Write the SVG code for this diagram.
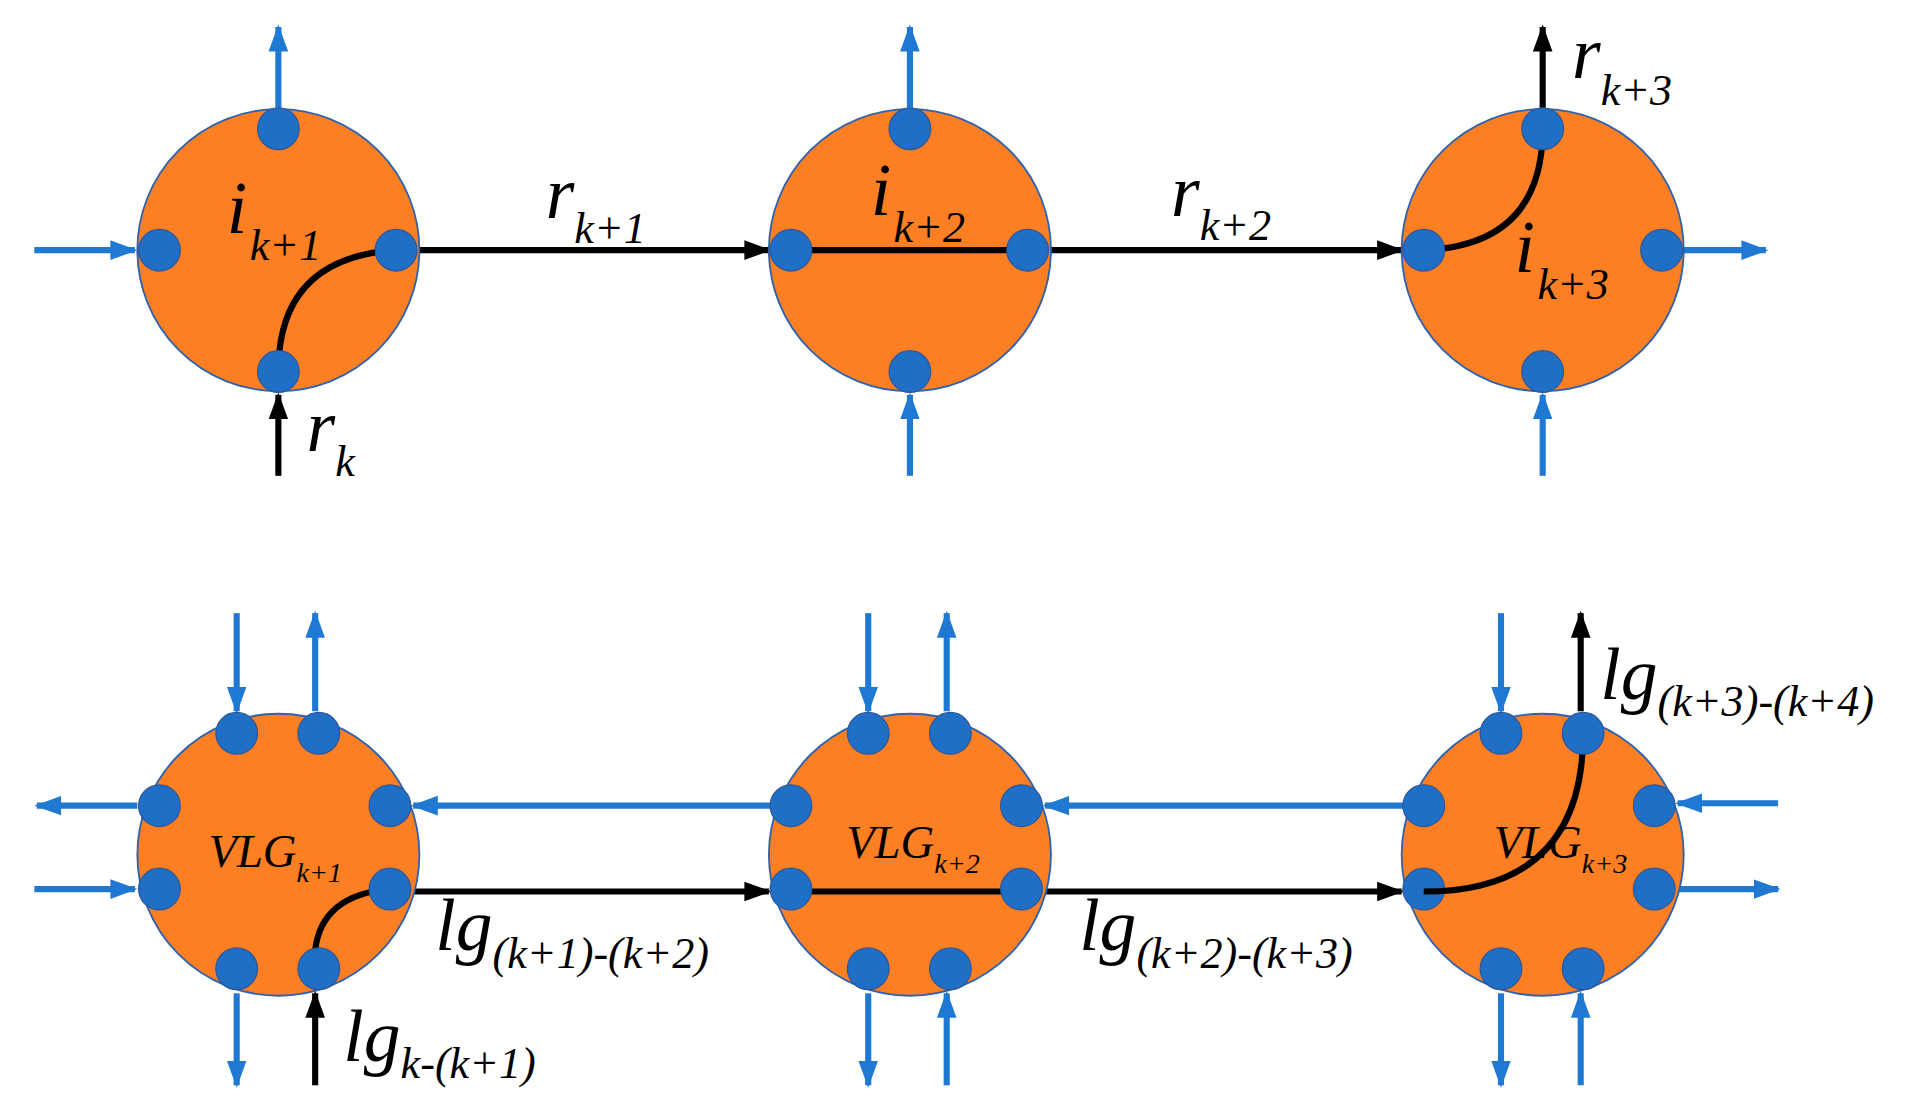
<svg xmlns="http://www.w3.org/2000/svg" width="1913" height="1111" viewBox="0 0 1913 1111">
<style>
.c{fill:#fd7f23;stroke:#2f62ae;stroke-width:1.5}
.d{fill:#1f6fc6;stroke:#2f5597;stroke-width:1}
.b{stroke:#1f78d1;stroke-width:5;fill:none;marker-end:url(#mb)}
.k{stroke:#000;stroke-width:5;fill:none;marker-end:url(#mk)}
.p{stroke:#000;stroke-width:5;fill:none}
text{font-family:"Liberation Serif",serif;fill:#000}
.m{font-style:italic;font-size:60px}
.s{font-size:36px}
.v{font-style:italic;font-size:38px}
.vs{font-size:23px}
</style>
<defs>
<marker id="mb" markerUnits="userSpaceOnUse" markerWidth="24" markerHeight="20" refX="20" refY="10" orient="auto"><path d="M0,2 L22,10 L0,18 Z" fill="#1f78d1"/></marker>
<marker id="mk" markerUnits="userSpaceOnUse" markerWidth="24" markerHeight="20" refX="20" refY="10" orient="auto"><path d="M0,2 L22,10 L0,18 Z" fill="#000"/></marker>
</defs>
<g transform="scale(1.2263)">
<g id="connectors">
<line class="b" x1="227" y1="88" x2="227" y2="22"/>
<line class="b" x1="28" y1="204" x2="110" y2="204"/>
<line class="k" x1="227" y1="388" x2="227" y2="322"/>
<line class="k" x1="341" y1="204" x2="627" y2="204"/>
<line class="b" x1="742" y1="88" x2="742" y2="22"/>
<line class="b" x1="742" y1="388" x2="742" y2="322"/>
<line class="k" x1="856" y1="204" x2="1143" y2="204"/>
<line class="k" x1="1258" y1="88" x2="1258" y2="22"/>
<line class="b" x1="1373" y1="204" x2="1440" y2="204"/>
<line class="b" x1="1258" y1="388" x2="1258" y2="322"/>

<line class="b" x1="193" y1="500" x2="193" y2="580"/>
<line class="b" x1="257" y1="580" x2="257" y2="500"/>
<line class="b" x1="112" y1="657" x2="30" y2="657"/>
<line class="b" x1="28" y1="725" x2="110" y2="725"/>
<line class="b" x1="193" y1="810" x2="193" y2="885"/>
<line class="k" x1="257" y1="885" x2="257" y2="810"/>
<line class="b" x1="630" y1="657" x2="337" y2="657"/>
<line class="k" x1="337" y1="727" x2="627" y2="727"/>
<line class="b" x1="708" y1="500" x2="708" y2="580"/>
<line class="b" x1="772" y1="580" x2="772" y2="500"/>
<line class="b" x1="708" y1="810" x2="708" y2="885"/>
<line class="b" x1="772" y1="885" x2="772" y2="810"/>
<line class="b" x1="1145" y1="657" x2="852" y2="657"/>
<line class="k" x1="852" y1="727" x2="1143" y2="727"/>
<line class="b" x1="1224" y1="500" x2="1224" y2="580"/>
<line class="k" x1="1289" y1="580" x2="1289" y2="500"/>
<line class="b" x1="1450" y1="655" x2="1368" y2="655"/>
<line class="b" x1="1368" y1="725" x2="1450" y2="725"/>
<line class="b" x1="1224" y1="810" x2="1224" y2="885"/>
<line class="b" x1="1289" y1="885" x2="1289" y2="810"/>
</g>
<g id="n1"><circle class="c" cx="227" cy="204" r="115"/>
<path class="p" d="M227,303 Q227,210 323,204"/>
<circle class="d" cx="227" cy="105" r="17"/><circle class="d" cx="227" cy="303" r="17"/><circle class="d" cx="130" cy="204" r="17"/><circle class="d" cx="323" cy="204" r="17"/>
<text x="185" y="190" class="m">i<tspan class="s" dx="2" dy="22"><tspan font-style="italic">k</tspan>+1</tspan></text></g>
<g id="n2"><circle class="c" cx="742" cy="204" r="115"/>
<line class="p" x1="645" y1="204" x2="838" y2="204"/>
<circle class="d" cx="742" cy="105" r="17"/><circle class="d" cx="742" cy="303" r="17"/><circle class="d" cx="645" cy="204" r="17"/><circle class="d" cx="838" cy="204" r="17"/>
<text x="710" y="175" class="m">i<tspan class="s" dx="2" dy="22"><tspan font-style="italic">k</tspan>+2</tspan></text></g>
<g id="n3"><circle class="c" cx="1258" cy="204" r="115"/>
<path class="p" d="M1161,204 Q1258,200 1258,105"/>
<circle class="d" cx="1258" cy="105" r="17"/><circle class="d" cx="1258" cy="303" r="17"/><circle class="d" cx="1161" cy="204" r="17"/><circle class="d" cx="1355" cy="204" r="17"/>
<text x="1235" y="222" class="m">i<tspan class="s" dx="2" dy="22"><tspan font-style="italic">k</tspan>+3</tspan></text></g>
<text x="250" y="368" class="m">r<tspan class="s" dy="20" font-style="italic">k</tspan></text>
<text x="445" y="178" class="m">r<tspan class="s" dy="20"><tspan font-style="italic">k</tspan>+1</tspan></text>
<text x="955" y="176" class="m">r<tspan class="s" dy="20"><tspan font-style="italic">k</tspan>+2</tspan></text>
<text x="1282" y="64" class="m">r<tspan class="s" dy="22"><tspan font-style="italic">k</tspan>+3</tspan></text>

<g id="m1"><circle class="c" cx="227" cy="697" r="115"/>
<path class="p" d="M257,775 Q262,730 318,725"/>
<circle class="d" cx="193" cy="598" r="17"/><circle class="d" cx="260" cy="598" r="17"/><circle class="d" cx="130" cy="657" r="17"/><circle class="d" cx="130" cy="725" r="17"/><circle class="d" cx="318" cy="657" r="17"/><circle class="d" cx="318" cy="725" r="17"/><circle class="d" cx="193" cy="790" r="17"/><circle class="d" cx="260" cy="790" r="17"/>
<text x="170" y="707" class="v">VLG<tspan class="vs" dy="12"><tspan font-style="italic">k</tspan>+1</tspan></text></g>
<g id="m2"><circle class="c" cx="742" cy="697" r="115"/>
<line class="p" x1="645" y1="727" x2="833" y2="727"/>
<circle class="d" cx="708" cy="598" r="17"/><circle class="d" cx="775" cy="598" r="17"/><circle class="d" cx="645" cy="657" r="17"/><circle class="d" cx="645" cy="725" r="17"/><circle class="d" cx="833" cy="657" r="17"/><circle class="d" cx="833" cy="725" r="17"/><circle class="d" cx="708" cy="790" r="17"/><circle class="d" cx="775" cy="790" r="17"/>
<text x="690" y="700" class="v">VLG<tspan class="vs" dy="12"><tspan font-style="italic">k</tspan>+2</tspan></text></g>
<g id="m3"><circle class="c" cx="1258" cy="697" r="115"/>
<circle class="d" cx="1224" cy="598" r="17"/><circle class="d" cx="1161" cy="657" r="17"/><circle class="d" cx="1161" cy="725" r="17"/><circle class="d" cx="1349" cy="657" r="17"/><circle class="d" cx="1349" cy="725" r="17"/><circle class="d" cx="1224" cy="790" r="17"/><circle class="d" cx="1291" cy="790" r="17"/>
<text x="1218" y="700" class="v">VLG<tspan class="vs" dy="12"><tspan font-style="italic">k</tspan>+3</tspan></text>
<path class="p" d="M1161,727 Q1291,727 1291,598"/>
<circle class="d" cx="1291" cy="598" r="17"/></g>
<text x="355" y="775" class="m">lg<tspan class="s" dy="14">(<tspan font-style="italic">k</tspan>+1)-(<tspan font-style="italic">k</tspan>+2)</tspan></text>
<text x="880" y="775" class="m">lg<tspan class="s" dy="14">(<tspan font-style="italic">k</tspan>+2)-(<tspan font-style="italic">k</tspan>+3)</tspan></text>
<text x="280" y="865" class="m">lg<tspan class="s" dy="14"><tspan font-style="italic">k</tspan>-(<tspan font-style="italic">k</tspan>+1)</tspan></text>
<text x="1305" y="570" class="m">lg<tspan class="s" dy="14">(<tspan font-style="italic">k</tspan>+3)-(<tspan font-style="italic">k</tspan>+4)</tspan></text>
</g>
</svg>
